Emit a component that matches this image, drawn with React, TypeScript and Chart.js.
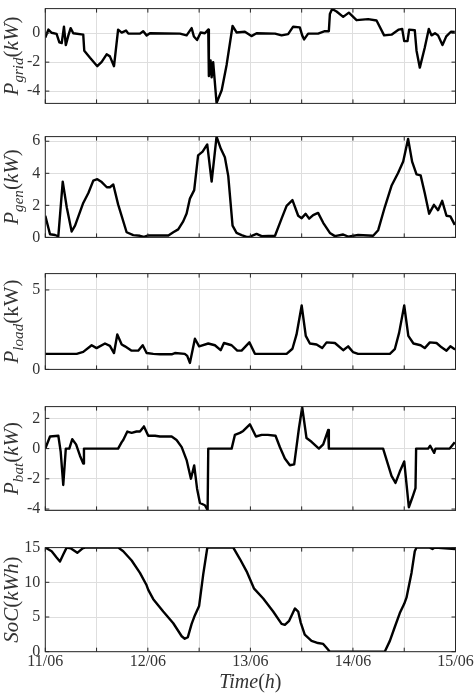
import React, { useEffect, useRef } from 'react';
import { Chart, registerables } from 'chart.js';
Chart.register(...registerables);

// ---- data (time in days from 11/06 00:00) ----
const dayLabels = ['11/06', '12/06', '13/06', '14/06', '15/06'];
const xGridTicks = [0, 0.5, 1, 1.5, 2, 2.5, 3, 3.5, 4];

const gridT = [0, 0.03, 0.062, 0.11, 0.137, 0.16, 0.182, 0.2, 0.225, 0.247, 0.273, 0.37, 0.38, 0.436, 0.507, 0.55, 0.598, 0.63, 0.67, 0.71, 0.745, 0.787, 0.81, 0.923, 0.955, 0.988, 1.02, 1.313, 1.378, 1.427, 1.449, 1.48, 1.515, 1.556, 1.589, 1.595, 1.612, 1.622, 1.637, 1.67, 1.72, 1.768, 1.826, 1.865, 1.946, 2.01, 2.06, 2.24, 2.304, 2.368, 2.417, 2.482, 2.505, 2.524, 2.563, 2.66, 2.726, 2.765, 2.775, 2.797, 2.84, 2.905, 2.96, 3.035, 3.148, 3.23, 3.304, 3.376, 3.447, 3.48, 3.5, 3.532, 3.548, 3.603, 3.62, 3.652, 3.7, 3.74, 3.766, 3.8, 3.83, 3.873, 3.91, 3.955, 3.993];
const gridV = [-0.3, 0.25, 0.03, -0.05, -0.63, -0.68, 0.45, -0.82, -0.15, 0.35, 0, -0.1, -1.21, -1.7, -2.28, -1.98, -1.46, -1.6, -2.28, 0.25, 0.04, 0.18, -0.03, -0.03, 0.14, -0.15, 0, -0.03, -0.15, 0.35, -0.23, -0.47, 0.05, 0, 0.25, -2.96, -1.89, -3.05, -2.0, -4.82, -3.94, -2.19, 0.5, 0.05, 0.1, -0.2, 0, -0.03, -0.15, -0.06, 0.45, 0.4, -0.15, -0.43, -0.03, -0.03, 0.14, 0.14, 1.32, 1.67, 1.5, 1.13, 1.42, 0.9, 0.97, 0.88, -0.15, -0.1, 0.25, 0.3, -0.55, -0.55, 0.25, 0.2, -1.21, -2.38, -1.0, 0.3, -0.15, 0, -0.15, -0.82, -0.22, 0.1, 0.08];

const genT = [0, 0.046, 0.095, 0.127, 0.17, 0.209, 0.257, 0.29, 0.37, 0.42, 0.468, 0.507, 0.55, 0.6, 0.63, 0.663, 0.71, 0.793, 0.858, 0.923, 0.962, 1.004, 1.2, 1.248, 1.296, 1.345, 1.378, 1.41, 1.452, 1.49, 1.534, 1.579, 1.622, 1.67, 1.712, 1.751, 1.784, 1.826, 1.865, 1.914, 1.963, 1.995, 2.06, 2.11, 2.24, 2.304, 2.353, 2.41, 2.466, 2.5, 2.538, 2.573, 2.612, 2.66, 2.71, 2.775, 2.824, 2.905, 2.953, 3.05, 3.197, 3.246, 3.31, 3.376, 3.44, 3.49, 3.538, 3.577, 3.62, 3.66, 3.7, 3.743, 3.79, 3.83, 3.87, 3.912, 3.95, 3.993];
const genV = [1.35, 0.2, 0.15, 0.07, 3.48, 1.88, 0.37, 0.73, 2.15, 2.77, 3.54, 3.63, 3.45, 3.13, 3.13, 3.3, 2.06, 0.32, 0.14, 0.1, 0.03, 0.12, 0.12, 0.32, 0.5, 1.0, 1.49, 2.42, 2.95, 5.12, 5.35, 5.8, 3.48, 6.29, 5.53, 5.0, 3.84, 0.73, 0.28, 0.14, 0.03, 0.05, 0.22, 0.08, 0.1, 1.17, 1.97, 2.33, 1.35, 1.2, 1.47, 1.17, 1.39, 1.53, 0.91, 0.28, 0.08, 0.18, 0.05, 0.15, 0.1, 0.45, 1.88, 3.22, 4.02, 4.73, 6.15, 4.73, 3.93, 3.87, 2.77, 1.48, 2.03, 1.7, 2.28, 1.35, 1.31, 0.78];

const loadT = [0, 0.306, 0.37, 0.452, 0.5, 0.582, 0.63, 0.67, 0.702, 0.745, 0.777, 0.842, 0.906, 0.95, 0.988, 1.053, 1.118, 1.232, 1.264, 1.36, 1.384, 1.41, 1.459, 1.5, 1.589, 1.654, 1.71, 1.742, 1.817, 1.872, 1.914, 1.99, 2.044, 2.353, 2.41, 2.45, 2.5, 2.54, 2.58, 2.645, 2.7, 2.743, 2.824, 2.905, 2.953, 3.0, 3.05, 3.36, 3.408, 3.45, 3.5, 3.54, 3.59, 3.66, 3.7, 3.75, 3.815, 3.864, 3.912, 3.95, 3.996];
const loadV = [0.98, 0.98, 1.1, 1.52, 1.34, 1.63, 1.48, 1.03, 2.2, 1.57, 1.45, 1.18, 1.18, 1.52, 1.03, 0.98, 0.95, 0.95, 1.03, 0.98, 0.85, 0.41, 1.93, 1.45, 1.63, 1.52, 1.21, 1.66, 1.52, 1.18, 1.18, 1.7, 0.98, 0.98, 1.3, 2.2, 4.02, 2.11, 1.63, 1.57, 1.34, 1.7, 1.66, 1.21, 1.45, 1.09, 0.98, 0.98, 1.27, 2.3, 4.02, 2.11, 1.63, 1.52, 1.34, 1.7, 1.66, 1.39, 1.18, 1.45, 1.25];

const batT = [0, 0.046, 0.127, 0.15, 0.175, 0.2, 0.234, 0.263, 0.3, 0.338, 0.37, 0.377, 0.71, 0.745, 0.76, 0.8, 0.842, 0.89, 0.923, 0.962, 1.004, 1.07, 1.118, 1.232, 1.28, 1.33, 1.378, 1.42, 1.452, 1.48, 1.508, 1.556, 1.583, 1.589, 1.817, 1.849, 1.898, 1.93, 1.995, 2.054, 2.11, 2.17, 2.245, 2.288, 2.336, 2.385, 2.427, 2.473, 2.505, 2.547, 2.596, 2.668, 2.71, 2.758, 2.765, 3.294, 3.376, 3.415, 3.457, 3.5, 3.545, 3.58, 3.61, 3.616, 3.733, 3.753, 3.776, 3.792, 3.805, 3.944, 3.993];
const batV = [0, 0.8, 0.85, -0.2, -2.41, 0, 0, 0.62, 0.28, -0.47, -0.99, 0, 0, 0.43, 0.57, 1.13, 1.04, 1.13, 1.13, 1.47, 0.85, 0.85, 0.8, 0.8, 0.57, 0.1, -0.76, -1.99, -1.11, -2.65, -3.6, -3.75, -4.07, 0, 0, 0.91, 1.04, 1.17, 1.61, 0.8, 0.91, 0.91, 0.85, 0.09, -0.66, -1.1, -1.04, 1.33, 2.74, 0.7, 0.45, 0, 0.28, 1.23, 0, 0, -1.8, -2.27, -1.52, -0.85, -3.88, -3.22, -2.61, 0, 0, 0.19, -0.09, -0.28, 0, 0, 0.42];

const socT = [0, 0.062, 0.11, 0.143, 0.175, 0.208, 0.247, 0.312, 0.364, 0.387, 0.712, 0.76, 0.842, 0.923, 0.988, 1.004, 1.053, 1.15, 1.248, 1.33, 1.36, 1.39, 1.427, 1.459, 1.5, 1.54, 1.579, 1.589, 1.833, 1.898, 1.963, 2.034, 2.125, 2.222, 2.304, 2.336, 2.378, 2.434, 2.466, 2.49, 2.53, 2.596, 2.66, 2.71, 2.736, 2.775, 3.31, 3.36, 3.408, 3.457, 3.5, 3.522, 3.571, 3.603, 3.62, 3.75, 3.776, 3.798, 3.996];
const socV = [15, 14.47, 13.58, 13.0, 14.0, 15, 14.9, 14.25, 14.9, 15, 15, 14.47, 13.14, 11.35, 9.57, 8.9, 7.57, 5.79, 4.1, 2.23, 1.87, 2.1, 4.0, 5.26, 6.6, 11.13, 14.9, 15, 15, 13.35, 11.58, 9.13, 7.66, 5.79, 4.0, 3.87, 4.45, 6.23, 5.79, 4.23, 2.45, 1.56, 1.25, 1.12, 0.67, 0, 0, 1.56, 3.56, 5.57, 6.9, 7.79, 11.35, 14.47, 15, 15, 14.8, 15, 14.8];

const gridTicks = [-4, -2, 0];
const genTicks = [0, 2, 4, 6];
const loadTicks = [0, 5];
const batTicks = [-4, -2, 0, 2];
const socTicks = [0, 5, 10, 15];

// ---- layout / style ----
const W = 474;
const PLOT_LEFT = 45.3;
const PLOT_RIGHT = 455.5;
const SERIF = '"Liberation Serif", "Times New Roman", serif';
const TEXT = '#333333';
const BOX = '#262626';
const GRID = '#dedede';

type Seg = { t: string; it?: boolean; sub?: boolean };

function drawSegs(ctx: CanvasRenderingContext2D, segs: Seg[], size: number, cx: number, cy: number, rotate: boolean) {
  const parts = segs.map((s) => {
    const fs = s.sub ? size * 0.72 : size;
    const font = `${s.it ? 'italic ' : ''}${fs}px ${SERIF}`;
    ctx.font = font;
    return { ...s, font, w: ctx.measureText(s.t).width };
  });
  const total = parts.reduce((a, p) => a + p.w, 0);
  ctx.save();
  ctx.translate(cx, cy);
  if (rotate) ctx.rotate(-Math.PI / 2);
  ctx.fillStyle = TEXT;
  ctx.textBaseline = 'alphabetic';
  ctx.textAlign = 'left';
  let x = -total / 2;
  for (const p of parts) {
    ctx.font = p.font;
    ctx.fillText(p.t, x, p.sub ? size * 0.26 : 0);
    x += p.w;
  }
  ctx.restore();
}

function makePlugin(label: Seg[], last: boolean, yTicks: number[]) {
  return {
    id: 'matlabBox',
    afterDraw(chart: any) {
      const ctx: CanvasRenderingContext2D = chart.ctx;
      const { left, right, top, bottom } = chart.chartArea;
      const xs = chart.scales.x;
      const ys = chart.scales.y;
      ctx.save();
      ctx.strokeStyle = BOX;
      ctx.lineWidth = 1;
      ctx.strokeRect(left, top, right - left, bottom - top);
      const tl = 4;
      ctx.beginPath();
      for (const v of xGridTicks) {
        const px = xs.getPixelForValue(v);
        ctx.moveTo(px, bottom);
        ctx.lineTo(px, bottom - tl);
        ctx.moveTo(px, top);
        ctx.lineTo(px, top + tl);
      }
      for (const v of yTicks) {
        const py = ys.getPixelForValue(v);
        ctx.moveTo(left, py);
        ctx.lineTo(left + tl, py);
        ctx.moveTo(right, py);
        ctx.lineTo(right - tl, py);
      }
      ctx.stroke();
      if (last) {
        ctx.fillStyle = TEXT;
        ctx.font = `16px ${SERIF}`;
        ctx.textAlign = 'center';
        ctx.textBaseline = 'alphabetic';
        dayLabels.forEach((lab, i) => {
          ctx.fillText(lab, xs.getPixelForValue(i), bottom + 14);
        });
        drawSegs(ctx, [{ t: 'Time', it: true }, { t: '(' }, { t: 'h', it: true }, { t: ')' }], 20, (left + right) / 2, bottom + 36, false);
      }
      ctx.restore();
      drawSegs(ctx, label, 21, 17.5, (top + bottom) / 2, true);
    },
  };
}

type PanelProps = {
  top: number;
  bottom: number;
  xs: number[];
  ys: number[];
  min: number;
  max: number;
  yTicks: number[];
  label: Seg[];
  last?: boolean;
};

function Panel({ top, bottom, xs, ys, min, max, yTicks, label, last = false }: PanelProps) {
  const ref = useRef<HTMLCanvasElement>(null);
  const padTop = 6;
  const padBottom = last ? 697 - bottom : 6;
  const h = Math.round(bottom - top + padTop + padBottom);
  const canvasTop = top - padTop;
  useEffect(() => {
    if (!ref.current) return;
    const chart = new Chart(ref.current, {
      type: 'line',
      data: {
        datasets: [
          {
            data: xs.map((x, i) => ({ x, y: ys[i] })),
            borderColor: '#000000',
            borderWidth: 2.4,
            pointRadius: 0,
            tension: 0,
            fill: false,
            borderJoinStyle: 'round',
          },
        ],
      },
      options: {
        animation: false,
        responsive: false,
        devicePixelRatio: 1,
        events: [],
        layout: { padding: { top: padTop, bottom: padBottom, left: 0, right: W - PLOT_RIGHT } },
        plugins: { legend: { display: false }, tooltip: { enabled: false } },
        scales: {
          x: {
            type: 'linear',
            min: 0,
            max: 4,
            afterFit: (s: any) => {
              s.height = 0;
            },
            afterBuildTicks: (s: any) => {
              s.ticks = xGridTicks.map((v) => ({ value: v }));
            },
            grid: { color: GRID, lineWidth: 1, drawTicks: false },
            border: { display: false },
            ticks: { display: false },
          },
          y: {
            type: 'linear',
            min,
            max,
            afterFit: (s: any) => {
              s.width = PLOT_LEFT;
            },
            afterBuildTicks: (s: any) => {
              s.ticks = yTicks.map((v) => ({ value: v }));
            },
            grid: { color: GRID, lineWidth: 1, drawTicks: false },
            border: { display: false },
            ticks: {
              color: TEXT,
              font: { family: SERIF, size: 16 },
              padding: 5,
              callback: (v: any) => String(v),
            },
          },
        },
      } as any,
      plugins: [makePlugin(label, last, yTicks)],
    });
    return () => chart.destroy();
  }, []);
  return (
    <canvas
      ref={ref}
      width={W}
      height={h}
      style={{ position: 'absolute', left: 0, top: canvasTop, width: W, height: h, display: 'block' }}
    />
  );
}

export default function App() {
  return (
    <div style={{ position: 'absolute', left: 0, top: 0, width: W, height: 697, overflow: 'hidden', background: '#fff' }}>
      <Panel top={0} bottom={112} xs={gridT} ys={gridV} min={-4.85} max={1.7} yTicks={gridTicks}
        label={[{ t: 'P', it: true }, { t: 'grid', it: true, sub: true }, { t: '(' }, { t: 'kW', it: true }, { t: ')' }]} />
      <Panel top={128.3} bottom={246} xs={genT} ys={genV} min={0} max={6.29} yTicks={genTicks}
        label={[{ t: 'P', it: true }, { t: 'gen', it: true, sub: true }, { t: '(' }, { t: 'kW', it: true }, { t: ')' }]} />
      <Panel top={265} bottom={377.7} xs={loadT} ys={loadV} min={0} max={6.03} yTicks={loadTicks}
        label={[{ t: 'P', it: true }, { t: 'load', it: true, sub: true }, { t: '(kW)' }]} />
      <Panel top={398.3} bottom={519.3} xs={batT} ys={batV} min={-4.09} max={2.78} yTicks={batTicks}
        label={[{ t: 'P', it: true }, { t: 'bat', it: true, sub: true }, { t: '(' }, { t: 'kW', it: true }, { t: ')' }]} />
      <Panel top={539.3} bottom={651.7} xs={socT} ys={socV} min={0} max={15} yTicks={socTicks} last
        label={[{ t: 'SoC', it: true }, { t: '(' }, { t: 'kWh', it: true }, { t: ')' }]} />
    </div>
  );
}
